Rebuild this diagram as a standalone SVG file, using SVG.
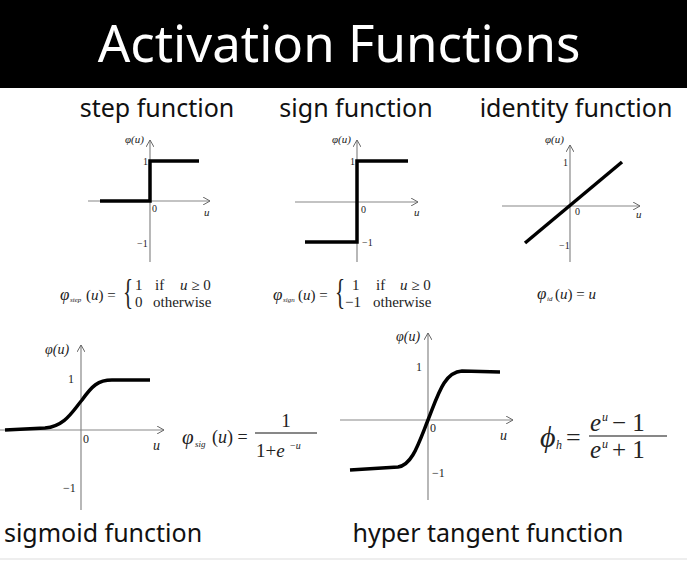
<svg xmlns="http://www.w3.org/2000/svg" width="687" height="563" viewBox="0 0 687 563">
<style>
.t{font-family:"Noto Sans","DejaVu Sans",sans-serif;font-size:25px;fill:#111}
.ax{stroke:#888;stroke-width:1.2;fill:none}
.c{stroke:#000;stroke-width:3.5;fill:none}
text.s{font-family:"Liberation Serif",serif;fill:#222}
.i{font-style:italic}
</style>
<defs><marker id="a" markerWidth="8" markerHeight="8" refX="7" refY="4" orient="auto" markerUnits="userSpaceOnUse"><path d="M0,0 L7,4 L0,8" fill="none" stroke="#666" stroke-width="1"/></marker></defs>
<rect width="687" height="563" fill="#fff"/>
<rect width="687" height="88" fill="#000"/>
<text x="339" y="62" text-anchor="middle" font-family="Noto Sans,DejaVu Sans,sans-serif" font-size="51" fill="#fff">Activation Functions</text>
<text class="t" x="157" y="117" text-anchor="middle">step function</text>
<text class="t" x="356" y="117" text-anchor="middle">sign function</text>
<text class="t" x="576" y="117" text-anchor="middle">identity function</text>
<text class="t" x="103" y="542" text-anchor="middle">sigmoid function</text>
<text class="t" x="488" y="542" text-anchor="middle">hyper tangent function</text>
<g id="connectors">
<line class="ax" x1="150" y1="262" x2="150" y2="140" marker-end="url(#a)"/>
<line class="ax" x1="88" y1="201" x2="210" y2="201" marker-end="url(#a)"/>
<line class="ax" x1="357" y1="262" x2="357" y2="140" marker-end="url(#a)"/>
<line class="ax" x1="295" y1="202" x2="418" y2="202" marker-end="url(#a)"/>
<line class="ax" x1="570" y1="262" x2="570" y2="145" marker-end="url(#a)"/>
<line class="ax" x1="502" y1="206" x2="640" y2="206" marker-end="url(#a)"/>
<line class="ax" x1="81" y1="510" x2="81" y2="345" marker-end="url(#a)"/>
<line class="ax" x1="0" y1="430" x2="164" y2="430" marker-end="url(#a)"/>
<line class="ax" x1="428" y1="500" x2="428" y2="333" marker-end="url(#a)"/>
<line class="ax" x1="340" y1="420" x2="513" y2="420" marker-end="url(#a)"/>
</g>
<g id="step" font-size="10">
<path class="c" d="M100,201 H150 V161 H199"/>
<text class="s i" x="125" y="143" font-size="11">φ(u)</text><text class="s" x="143" y="165">1</text><text class="s" x="152" y="212">0</text><text class="s i" x="204" y="216" font-size="11">u</text><text class="s" x="137" y="247">−1</text>
<text class="s i" x="60" y="300" font-size="17">φ</text><text class="s i" x="70" y="302" font-size="7">step</text>
<text class="s" x="86" y="300" font-size="15">(<tspan class="i">u</tspan>) =</text>
<text class="s" x="123" y="304" font-size="30" transform="translate(123 304) scale(0.7 1.2) translate(-123 -304)">{</text>
<text class="s" x="135" y="290" font-size="15">1</text><text class="s" x="155" y="290" font-size="15">if</text><text class="s" x="180" y="290" font-size="15"><tspan class="i">u</tspan> ≥ 0</text>
<text class="s" x="135" y="307" font-size="15">0</text><text class="s" x="153" y="307" font-size="15">otherwise</text>
</g>
<g id="sign" font-size="10">
<path class="c" d="M305,242 H357 V161 H408"/>
<text class="s i" x="332" y="143" font-size="11">φ(u)</text><text class="s" x="350" y="165">1</text><text class="s" x="361" y="213">0</text><text class="s i" x="414" y="216" font-size="11">u</text><text class="s" x="362" y="246">−1</text>
<text class="s i" x="273" y="300" font-size="17">φ</text><text class="s i" x="283" y="302" font-size="7">sign</text>
<text class="s" x="298" y="300" font-size="15">(<tspan class="i">u</tspan>) =</text>
<text class="s" x="335" y="304" font-size="30" transform="translate(335 304) scale(0.7 1.2) translate(-335 -304)">{</text>
<text class="s" x="352" y="290" font-size="15">1</text><text class="s" x="376" y="290" font-size="15">if</text><text class="s" x="400" y="290" font-size="15"><tspan class="i">u</tspan> ≥ 0</text>
<text class="s" x="345" y="307" font-size="15">−1</text><text class="s" x="373" y="307" font-size="15">otherwise</text>
</g>
<g id="identity" font-size="10">
<line class="c" x1="525" y1="243" x2="622" y2="162"/>
<text class="s i" x="545" y="143" font-size="11">φ(u)</text><text class="s" x="563" y="166">1</text><text class="s" x="575" y="215">0</text><text class="s i" x="636" y="218" font-size="11">u</text><text class="s" x="559" y="249">−1</text>
<text class="s i" x="537" y="299" font-size="17">φ</text><text class="s i" x="547" y="301" font-size="7">id</text>
<text class="s" x="555" y="299" font-size="15">(<tspan class="i">u</tspan>) = <tspan class="i">u</tspan></text>
</g>
<g id="sigmoid" font-size="12">
<path class="c" d="M5,430 L45,428 C65,426 72,412 82,400 C92,386 98,380 112,380 L150,380"/>
<text class="s i" x="45" y="354" font-size="14">φ(u)</text><text class="s" x="68" y="383">1</text><text class="s" x="83" y="443">0</text><text class="s i" x="153" y="450" font-size="14">u</text><text class="s" x="63" y="492">−1</text>
<text class="s i" x="182" y="444" font-size="21">φ</text><text class="s i" x="195" y="447" font-size="9">sig</text>
<text class="s" x="212" y="443" font-size="18">(<tspan class="i">u</tspan>) =</text>
<text class="s" x="286" y="427" font-size="19" text-anchor="middle">1</text>
<line x1="255" y1="433" x2="317" y2="433" stroke="#111" stroke-width="1"/>
<text class="s" x="256" y="457" font-size="19">1+<tspan class="i">e</tspan></text><text class="s" x="290" y="449" font-size="10">−<tspan class="i">u</tspan></text>
</g>
<g id="tanh" font-size="12">
<path class="c" d="M350,470 L398,467 C412,465 418,445 428,420 C438,395 444,372 462,371 L500,372"/>
<text class="s i" x="396" y="341" font-size="14">φ(u)</text><text class="s" x="416" y="371">1</text><text class="s" x="430" y="432">0</text><text class="s i" x="500" y="440" font-size="14">u</text><text class="s" x="432" y="477">−1</text>
<text class="s i" x="540" y="447" font-size="30">ϕ</text><text class="s i" x="556" y="449" font-size="12">h</text>
<text class="s" x="566" y="446" font-size="26">=</text>
<text class="s i" x="590" y="431" font-size="25">e</text><text class="s i" x="602" y="421" font-size="12">u</text><text class="s" x="612" y="431" font-size="25">− 1</text>
<line x1="589" y1="436" x2="667" y2="436" stroke="#111" stroke-width="1.2"/>
<text class="s i" x="590" y="458" font-size="25">e</text><text class="s i" x="602" y="448" font-size="12">u</text><text class="s" x="612" y="458" font-size="25">+ 1</text>
</g>
<line x1="0" y1="559" x2="687" y2="559" stroke="#ddd" stroke-width="1"/>
</svg>
